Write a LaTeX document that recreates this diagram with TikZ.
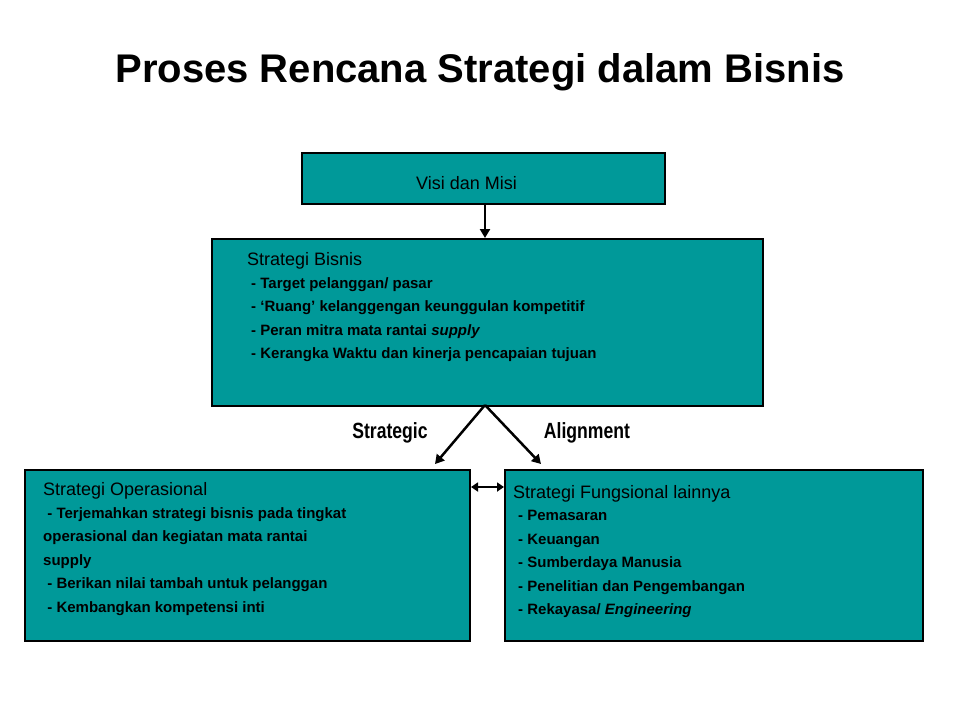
\documentclass[tikz,border=0pt]{standalone}
\usepackage{fontspec}
\setmainfont{Liberation Sans}
\usetikzlibrary{arrows.meta}
\definecolor{tealbox}{HTML}{009999}
\begin{document}
\begin{tikzpicture}[x=1pt,y=-1pt,
  box/.style={draw=black,line width=2pt,fill=tealbox},
  txt/.style={anchor=north west,align=left,inner sep=0pt,font=\fontsize{15}{23.5}\selectfont\bfseries},
  hd/.style={anchor=north west,inner sep=0pt,font=\fontsize{18}{22}\selectfont},
  arr/.style={line width=2.5pt,-{Triangle[length=9pt,width=10pt]}}]
\useasboundingbox (0,0) rectangle (960,720);
\node[font=\fontsize{40}{48}\selectfont\bfseries] (title) at (480,72) {Proses Rencana Strategi dalam Bisnis};
\node[box,minimum width=363pt,minimum height=51pt,anchor=north west] (visi) at (301,152) {};
\node[hd] (visit) at (416,176) {Visi dan Misi};
\node[box,minimum width=551pt,minimum height=167pt,anchor=north west] (bis) at (211,238) {};
\node[hd] (bist) at (247,252) {Strategi Bisnis};
\node[txt] (bisl) at (251,277) {- Target pelanggan/ pasar\\- `Ruang' kelanggengan keunggulan kompetitif\\- Peran mitra mata rantai \textit{supply}\\- Kerangka Waktu dan kinerja pencapaian tujuan};
\node[box,minimum width=445pt,minimum height=171pt,anchor=north west] (ops) at (24,469) {};
\node[hd] (opst) at (43,482) {Strategi Operasional};
\node[txt] (opsl) at (43,507) {\ - Terjemahkan strategi bisnis pada tingkat\\operasional dan kegiatan mata rantai\\supply\\\ - Berikan nilai tambah untuk pelanggan\\\ - Kembangkan kompetensi inti};
\node[box,minimum width=418pt,minimum height=171pt,anchor=north west] (fun) at (504,469) {};
\node[hd] (funt) at (513,485) {Strategi Fungsional lainnya};
\node[txt] (funl) at (518,510) {- Pemasaran\\- Keuangan\\- Sumberdaya Manusia\\- Penelitian dan Pengembangan\\- Rekayasa/ \textit{Engineering}};
\node[font=\fontsize{22}{26}\selectfont\bfseries,xscale=0.8] (sa) at (390,433) {Strategic};
\node[font=\fontsize{22}{26}\selectfont\bfseries,xscale=0.8] (al) at (587,433) {Alignment};
\coordinate (bb) at (485,405);
\coordinate (lt) at (435,464);
\coordinate (rt) at (541,464);
\draw[arr] (485,203) -- (485,238);
\draw[arr] (bb) -- (lt);
\draw[arr] (bb) -- (rt);
\draw[line width=2pt,{Triangle[length=7pt,width=9pt]}-{Triangle[length=7pt,width=9pt]}] (ops.east |- 0,487) -- (fun.west |- 0,487);
\end{tikzpicture}
\end{document}
